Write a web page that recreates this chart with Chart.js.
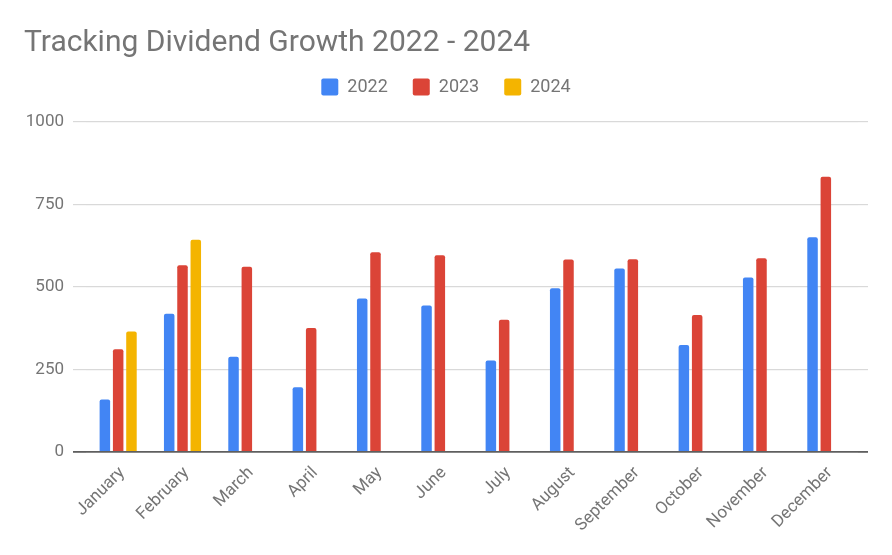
<!DOCTYPE html>
<html>
<head>
<meta charset="utf-8">
<title>Tracking Dividend Growth 2022 - 2024</title>
<script src="https://cdn.jsdelivr.net/npm/chart.js@4.4.1/dist/chart.umd.min.js"></script>
<style>
  html, body { margin: 0; padding: 0; background: #fff; }
  canvas { display: block; }
</style>
</head>
<body>
<canvas id="dividendChart" width="892" height="555"></canvas>
<script>
// values
const months = ['January', 'February', 'March', 'April', 'May', 'June',
  'July', 'August', 'September', 'October', 'November', 'December'];
const div2022 = [159, 419, 289, 196, 465, 444, 277, 496, 556, 324, 529, 651];
const div2023 = [311, 566, 561, 376, 605, 596, 401, 583, 584, 415, 587, 834];
const div2024 = [365, 643, null, null, null, null, null, null, null, null, null, null];
const yTicks = [0, 250, 500, 750, 1000];

const labelGrey = '#757575';

// zero line is dark, the rest light grey
const gridColor = (ctx) => (ctx.tick && ctx.tick.value === 0 ? '#5f5f5f' : '#d9d9d9');
const gridWidth = (ctx) => (ctx.tick && ctx.tick.value === 0 ? 1.8 : 1.2);

const ctx = document.getElementById('dividendChart').getContext('2d');

const chart = new Chart(ctx, {
  type: 'bar',
  data: {
    labels: months,
    datasets: [
      { label: '2022', data: div2022, backgroundColor: '#4285F4' },
      { label: '2023', data: div2023, backgroundColor: '#DB4437' },
      { label: '2024', data: div2024, backgroundColor: '#F4B400' },
    ],
  },
  options: {
    responsive: false,
    animation: false,
    devicePixelRatio: 1,
    layout: { padding: { left: 24, right: 24, bottom: 0, top: 0 } },
    datasets: {
      bar: {
        barPercentage: 0.79,
        categoryPercentage: 0.62,
        borderRadius: 2,
      },
    },
    plugins: {
      title: {
        display: true,
        text: 'Tracking Dividend Growth 2022 - 2024',
        align: 'start',
        color: labelGrey,
        font: { family: 'Roboto', size: 30, weight: 'normal' },
        padding: { top: 25, bottom: -8 },
      },
      legend: {
        position: 'top',
        align: 'center',
        labels: {
          color: labelGrey,
          font: { family: 'Roboto', size: 18 },
          boxWidth: 17,
          boxHeight: 17,
          useBorderRadius: true,
          borderRadius: 2,
          padding: 25,
        },
      },
      tooltip: { enabled: false },
    },
    scales: {
      x: {
        type: 'category',
        offset: true,
        grid: { display: false },
        border: { display: false },
        ticks: {
          color: labelGrey,
          font: { family: 'Roboto', size: 17 },
          minRotation: 45,
          maxRotation: 45,
          autoSkip: false,
          padding: 3,
          labelOffset: 4,
        },
        afterFit: (scale) => { scale.height = 103; },
      },
      // empty top axis, only keeps a gap between legend and plot
      xGap: {
        type: 'category',
        position: 'top',
        grid: { display: false },
        border: { display: false },
        ticks: { display: false },
        afterFit: (scale) => { scale.height = 16; },
      },
      y: {
        position: 'left',
        min: 0,
        max: 1000,
        afterBuildTicks: (scale) => { scale.ticks = yTicks.map((v) => ({ value: v })); },
        ticks: {
          color: labelGrey,
          font: { family: 'Roboto', size: 17 },
          padding: 9,
          callback: (v) => String(v),
        },
        grid: { color: gridColor, lineWidth: gridWidth, tickLength: 13, drawTicks: true },
        border: { display: false },
        afterFit: (scale) => { scale.width = 62; },
      },
      // right-hand axis only lets the grid lines run a little past the bars
      yRight: {
        position: 'right',
        min: 0,
        max: 1000,
        afterBuildTicks: (scale) => { scale.ticks = yTicks.map((v) => ({ value: v })); },
        ticks: { display: false },
        grid: { color: gridColor, lineWidth: gridWidth, tickLength: 10, drawOnChartArea: false },
        border: { display: false },
        afterFit: (scale) => { scale.width = 10; },
      },
    },
  },
});
</script>
</body>
</html>
